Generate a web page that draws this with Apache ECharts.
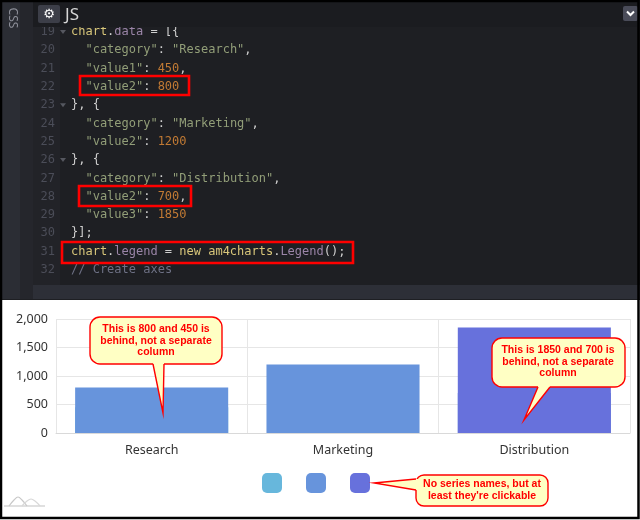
<!DOCTYPE html>
<html><head><meta charset="utf-8">
<script src="https://cdn.jsdelivr.net/npm/echarts@6/dist/echarts.min.js"></script>
<style>html,body{margin:0;padding:0;background:#fff}#c{width:640px;height:520px}</style>
</head><body><div id="c"></div>
<script>
// ---- chart data ----
const categories = ['Research', 'Marketing', 'Distribution'];
const value1 = [450, null, null];
const value2 = [800, 1200, 700];
const value3 = [null, null, 1850];
const yTicks = [0, 500, 1000, 1500, 2000];
const seriesNames = ['value1', 'value2', 'value3'];

// ---- editor text ----
const codeStartLine = 19;
const codeLines = [
  'chart.data = [{',
  '  "category": "Research",',
  '  "value1": 450,',
  '  "value2": 800',
  '}, {',
  '  "category": "Marketing",',
  '  "value2": 1200',
  '}, {',
  '  "category": "Distribution",',
  '  "value2": 700,',
  '  "value3": 1850',
  '}];',
  'chart.legend = new am4charts.Legend();',
  '// Create axes'
];
const foldLines = [19, 23, 26];
const highlightLines = [22, 28, 31];

// ---- annotation text ----
const note1 = ['This is 800 and 450 is', 'behind, not a separate', 'column'];
const note2 = ['This is 1850 and 700 is', 'behind, not a separate', 'column'];
const note3 = ['No series names, but at', "least they're clickable"];

const MONO = '"DejaVu Sans Mono", monospace';
const CW = 7.22, LH = 18.3, X0 = 71, Y19 = 32;
const colors = { str: '#929e78', num: '#c17a34', id: '#d8c67a', prop: '#9b85a8', punc: '#cfcfcf', com: '#6e7185' };

function lineY(n) { return Y19 + (n - codeStartLine) * LH; }

function tokenize(line) {
  const re = /("[^"]*")|(\/\/.*)|(\d+)|([A-Za-z_]\w*)|(\s+)|(.)/g;
  const out = []; let m, prev = '';
  while ((m = re.exec(line))) {
    let t;
    if (m[1]) t = 'str'; else if (m[2]) t = 'com'; else if (m[3]) t = 'num';
    else if (m[4]) t = prev === '.' ? 'prop' : 'id';
    else if (m[5]) t = 'ws'; else t = 'punc';
    out.push({ text: m[0], type: t, col: m.index });
    if (t !== 'ws') prev = m[0];
  }
  return out;
}

const g = [];
// editor backgrounds
g.push({ type: 'rect', shape: { x: 0, y: 0, width: 640, height: 300 }, style: { fill: '#1e1f23' }, z: 0 });
g.push({ type: 'rect', shape: { x: 33, y: 27, width: 27, height: 260 }, style: { fill: '#222328' }, z: 0 });

// code lines
codeLines.forEach((line, i) => {
  const n = codeStartLine + i, y = lineY(n);
  g.push({ type: 'text', x: 55, y: y, z: 1, style: { text: String(n), fill: '#4b4d58', font: '12px ' + MONO, align: 'right', verticalAlign: 'middle' } });
  if (foldLines.includes(n)) {
    g.push({ type: 'polygon', z: 1, shape: { points: [[60, y - 2], [66, y - 2], [63, y + 2]] }, style: { fill: '#55575f' } });
  }
  tokenize(line).forEach(tk => {
    if (tk.type === 'ws') return;
    g.push({ type: 'text', x: X0 + tk.col * CW, y: y, z: 1, style: { text: tk.text, fill: colors[tk.type], font: '12px ' + MONO, verticalAlign: 'middle' } });
  });
});

// header and bottom strip drawn over code
g.push({ type: 'rect', shape: { x: 0, y: 0, width: 640, height: 27 }, style: { fill: '#1b1c20' }, z: 5 });
g.push({ type: 'rect', shape: { x: 0, y: 285, width: 640, height: 14 }, style: { fill: '#2d2f37' }, z: 5 });
g.push({ type: 'rect', shape: { x: 0, y: 0, width: 20, height: 299 }, style: { fill: '#2b2d34' }, z: 5 });
g.push({ type: 'rect', shape: { x: 20, y: 0, width: 13, height: 299 }, style: { fill: '#25262c' }, z: 5 });
g.push({ type: 'text', x: 12, y: 18, rotation: -Math.PI / 2, z: 6, style: { text: 'CSS', fill: '#8e909a', font: '12px "Noto Sans"', align: 'center', verticalAlign: 'middle' } });
g.push({ type: 'rect', shape: { x: 38, y: 5, width: 22, height: 18, r: 2 }, style: { fill: '#3c3e48' }, z: 6 });
g.push({ type: 'text', x: 49, y: 14.5, z: 7, style: { text: '\u2699', fill: '#ffffff', font: 'bold 13px "DejaVu Sans"', align: 'center', verticalAlign: 'middle' } });
g.push({ type: 'text', x: 65, y: 15, z: 6, style: { text: 'JS', fill: '#d6d6d6', font: '17px "Noto Sans"', verticalAlign: 'middle' } });
g.push({ type: 'rect', shape: { x: 623, y: 6, width: 15, height: 15, r: 2 }, style: { fill: '#4a4c59' }, z: 6 });
g.push({ type: 'polyline', shape: { points: [[627, 11.5], [630.5, 15], [634, 11.5]] }, style: { stroke: '#ffffff', lineWidth: 2, fill: null }, z: 7 });

// red highlight boxes
const boxes = [[80, 76, 109, 19], [79, 186, 112, 20], [62, 242, 291, 21]];
boxes.forEach(b => g.push({ type: 'rect', z: 8, shape: { x: b[0], y: b[1], width: b[2], height: b[3] }, style: { fill: null, stroke: '#ff0000', lineWidth: 2.6 } }));

// callouts
function callout(rect, base, tip, lines, cx, cy0, r) {
  const Y = '#ffffc4', R = '#ff0000';
  g.push({ type: 'rect', z: 100, shape: { x: rect[0], y: rect[1], width: rect[2], height: rect[3], r: r }, style: { fill: Y, stroke: R, lineWidth: 1.4 } });
  g.push({ type: 'polygon', z: 101, shape: { points: [base[0], tip, base[1], base[2], base[3]] }, style: { fill: Y } });
  g.push({ type: 'polyline', z: 102, shape: { points: [base[0], tip, base[1]] }, style: { stroke: R, lineWidth: 1.4, fill: null } });
  lines.forEach((t, i) => g.push({ type: 'text', z: 103, x: cx, y: cy0 + i * 11.8, style: { text: t, fill: '#ff0000', font: 'bold 10.5px "Liberation Sans"', align: 'center', verticalAlign: 'middle' } }));
}
callout([90, 317, 132, 47], [[153, 364], [164, 364], [164, 361], [153, 361]], [163, 413], note1, 156, 329, 10);
callout([492, 338, 133, 49], [[538, 387], [550, 387], [550, 384], [538, 384]], [524, 420], note2, 558, 350, 10);
callout([416, 475, 132, 31], [[416, 479], [416, 490], [419, 490], [419, 479]], [374, 483], note3, 482, 484, 8);

// amCharts logo
g.push({ type: 'line', z: 10, shape: { x1: 4, y1: 506, x2: 45, y2: 506 }, style: { stroke: '#d6d6d6', lineWidth: 1.5 } });
g.push({ type: 'polyline', z: 10, shape: { points: [[9, 506], [14, 500], [18, 497], [22, 500], [27, 506]], smooth: 0.4 }, style: { stroke: '#c8c8c8', lineWidth: 1.2, fill: null } });
g.push({ type: 'polyline', z: 10, shape: { points: [[22, 506], [27, 501], [31, 499], [35, 501], [40, 506]], smooth: 0.4 }, style: { stroke: '#d8d8d8', lineWidth: 1.2, fill: null } });

// outer border
g.push({ type: 'rect', z: 200, shape: { x: 1, y: 1, width: 637.5, height: 517 }, style: { fill: null, stroke: '#000', lineWidth: 2.5 } });

const palette = ['#67b7dc', '#6794dc', '#6771dc'];
const seriesData = [value1, value2, value3];

const chart = echarts.init(document.getElementById('c'), null, { renderer: 'canvas' });
chart.setOption({
  animation: false,
  backgroundColor: '#ffffff',
  grid: { left: 56, right: 10, top: 319, bottom: 87, outerBoundsMode: 'none' },
  legend: {
    left: 262, top: 473, padding: 0, itemWidth: 20, itemHeight: 20, itemGap: 24, icon: 'roundRect',
    formatter: () => '', data: seriesNames, selectedMode: true
  },
  xAxis: {
    type: 'category', data: categories,
    axisLine: { lineStyle: { color: '#d9d9d9' } }, axisTick: { show: false },
    axisLabel: { color: '#333', fontSize: 12.5, fontFamily: 'Noto Sans', margin: 11 },
    splitLine: { show: true, interval: 0, lineStyle: { color: '#e6e6e6' } }
  },
  yAxis: {
    type: 'value', min: yTicks[0], max: yTicks[yTicks.length - 1], interval: yTicks[1] - yTicks[0],
    axisLine: { show: false }, axisTick: { show: false },
    axisLabel: { color: '#333', fontSize: 12.5, fontFamily: 'Noto Sans', margin: 8 },
    splitLine: { lineStyle: { color: '#e6e6e6' } }
  },
  series: seriesNames.map((name, i) => ({
    name: name, type: 'bar', data: seriesData[i], barWidth: '80%', barGap: '-100%',
    itemStyle: { color: palette[i] }
  })),
  graphic: { elements: g }
});
</script></body></html>
